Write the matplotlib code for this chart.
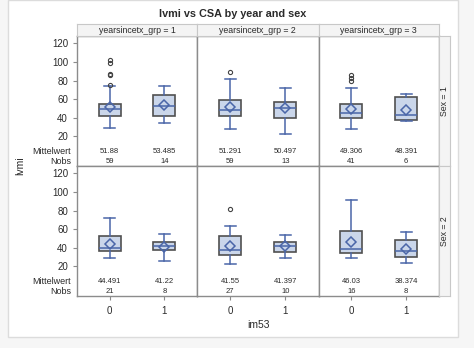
import matplotlib
matplotlib.use("Agg")
import matplotlib.pyplot as plt
from matplotlib.patches import Rectangle

plt.rcParams["font.family"] = ["Liberation Sans", "DejaVu Sans"]

# group labels
year_grps = ["1", "2", "3"]
sex_grps = ["1", "2"]
im53_levels = ["0", "1"]

# five-number summaries per panel, rows = sex, columns = yearsincetx_grp,
# each entry holds (im53=0, im53=1)
whislo = [[(29, 34), (28, 23), (28, 36.5)],
          [(29, 26), (23, 29), (28.6, 24)]]
q1 = [[(42, 41.6), (42, 39.4), (40.2, 38)],
      [(36.8, 37.5), (32.5, 35.4), (34.7, 30)]]
med = [[(49, 52.4), (48.8, 51), (45.1, 43.4)],
       [(40, 42.2), (37.1, 42.2), (38.9, 36.5)]]
q3 = [[(55, 64), (59.2, 57), (55.3, 62.4)],
      [(52.5, 46.4), (52.1, 46.4), (57.9, 48.3)]]
whishi = [[(74, 74), (82, 72), (72, 66)],
          [(72.5, 54.3), (63.6, 53.6), (91.4, 56.8)]]
outliers = [[([75, 86, 87, 99, 102], []), ([89.5], []), ([80, 83, 86], [])],
            [([], []), ([82], []), ([], [])]]
means = [[(51.88, 53.485), (51.291, 50.497), (49.306, 48.391)],
         [(44.491, 41.22), (41.55, 41.397), (46.03, 38.374)]]
mean_labels = [[("51.88", "53.485"), ("51.291", "50.497"), ("49.306", "48.391")],
               [("44.491", "41.22"), ("41.55", "41.397"), ("46.03", "38.374")]]
nobs = [[(59, 14), (59, 13), (41, 6)],
        [(21, 8), (27, 10), (16, 8)]]

W, H = 474, 348
fig = plt.figure(figsize=(W / 100, H / 100), dpi=100, facecolor="#f6f6f6")


def fx(px):
    return px / W


def fy(py):
    return 1 - py / H


# white card behind the graph
fig.patches.append(Rectangle((fx(8), fy(337)), fx(450), 337 / H,
                             transform=fig.transFigure, facecolor="white",
                             edgecolor="#dcdcdc", lw=1, zorder=-10))

col_edges = [77, 197, 318.5, 439]
row_edges = [36, 166, 296]
blue = "#4a66a8"
fill = "#cad6ea"
edge = "#505050"
frame = "#8c8c8c"
txt = "#2a2a2a"

for r in range(2):
    for c in range(3):
        ax = fig.add_axes([fx(col_edges[c]), fy(row_edges[r + 1]),
                           fx(col_edges[c + 1] - col_edges[c]),
                           (row_edges[r + 1] - row_edges[r]) / H])
        stats = []
        for k in range(2):
            stats.append(dict(med=med[r][c][k], q1=q1[r][c][k], q3=q3[r][c][k],
                              whislo=whislo[r][c][k], whishi=whishi[r][c][k],
                              mean=means[r][c][k], fliers=outliers[r][c][k]))
        ax.bxp(stats, positions=[0, 1], widths=0.4, patch_artist=True,
               showmeans=True,
               boxprops=dict(facecolor=fill, edgecolor=edge, lw=1.2),
               whiskerprops=dict(color=blue, lw=1.1),
               capprops=dict(color=blue, lw=1.1),
               medianprops=dict(color=blue, lw=1.1),
               meanprops=dict(marker="D", markerfacecolor="none",
                              markeredgecolor=blue, markersize=5, mew=1.1),
               flierprops=dict(marker="o", markerfacecolor="none",
                               markeredgecolor="#444444", markersize=3, mew=0.8))
        ax.set_xlim(-0.6, 1.6)
        ax.set_ylim(-12, 128)
        for s in ax.spines.values():
            s.set_color(frame)
            s.set_linewidth(1)
        ax.set_yticks([20, 40, 60, 80, 100, 120])
        ax.set_xticks([0, 1])
        ax.tick_params(colors=frame, labelcolor=txt, labelsize=7,
                       length=3, width=0.8)
        if c > 0:
            ax.tick_params(axis="y", left=False, labelleft=False)
        if r == 0:
            ax.tick_params(axis="x", bottom=False, labelbottom=False)
        else:
            ax.set_xticklabels(im53_levels)
            ax.tick_params(axis="x", pad=4)

        # statistics table inside the panel
        for k in range(2):
            ax.text(k, 0.113, mean_labels[r][c][k], transform=ax.get_xaxis_transform(),
                    ha="center", va="center", fontsize=5.5, color=txt)
            ax.text(k, 0.035, str(nobs[r][c][k]), transform=ax.get_xaxis_transform(),
                    ha="center", va="center", fontsize=5.5, color=txt)
        if c == 0:
            ax.text(-0.05, 0.113, "Mittelwert", transform=ax.transAxes,
                    ha="right", va="center", fontsize=6.5, color=txt)
            ax.text(-0.05, 0.035, "Nobs", transform=ax.transAxes,
                    ha="right", va="center", fontsize=6.5, color=txt)

# column headers
for c in range(3):
    hx = fig.add_axes([fx(col_edges[c]), fy(36), fx(col_edges[c + 1] - col_edges[c]), 12 / H])
    hx.set_xticks([])
    hx.set_yticks([])
    hx.set_facecolor("#f4f4f4")
    for s in hx.spines.values():
        s.set_color("#c8c8c8")
    hx.text(0.5, 0.45, f"yearsincetx_grp = {year_grps[c]}", ha="center", va="center",
            fontsize=6.3, color=txt, transform=hx.transAxes)

# row headers
for r in range(2):
    sx = fig.add_axes([fx(439), fy(row_edges[r + 1]), fx(11),
                       (row_edges[r + 1] - row_edges[r]) / H])
    sx.set_xticks([])
    sx.set_yticks([])
    sx.set_facecolor("#f4f4f4")
    for s in sx.spines.values():
        s.set_color("#c8c8c8")
    sx.text(0.5, 0.5, f"Sex = {sex_grps[r]}", rotation=90, ha="center", va="center",
            fontsize=6.3, color=txt, transform=sx.transAxes)

fig.text(fx(233), fy(14), "lvmi vs CSA by year and sex", ha="center", va="center",
         fontsize=7.8, fontweight="bold", color=txt)
fig.text(fx(20), fy(166), "lvmi", rotation=90, ha="center", va="center",
         fontsize=7.5, color=txt)
fig.text(fx(258), fy(325), "im53", ha="center", va="center", fontsize=7.5, color=txt)

fig.savefig("out.png", dpi=100, facecolor=fig.get_facecolor())
